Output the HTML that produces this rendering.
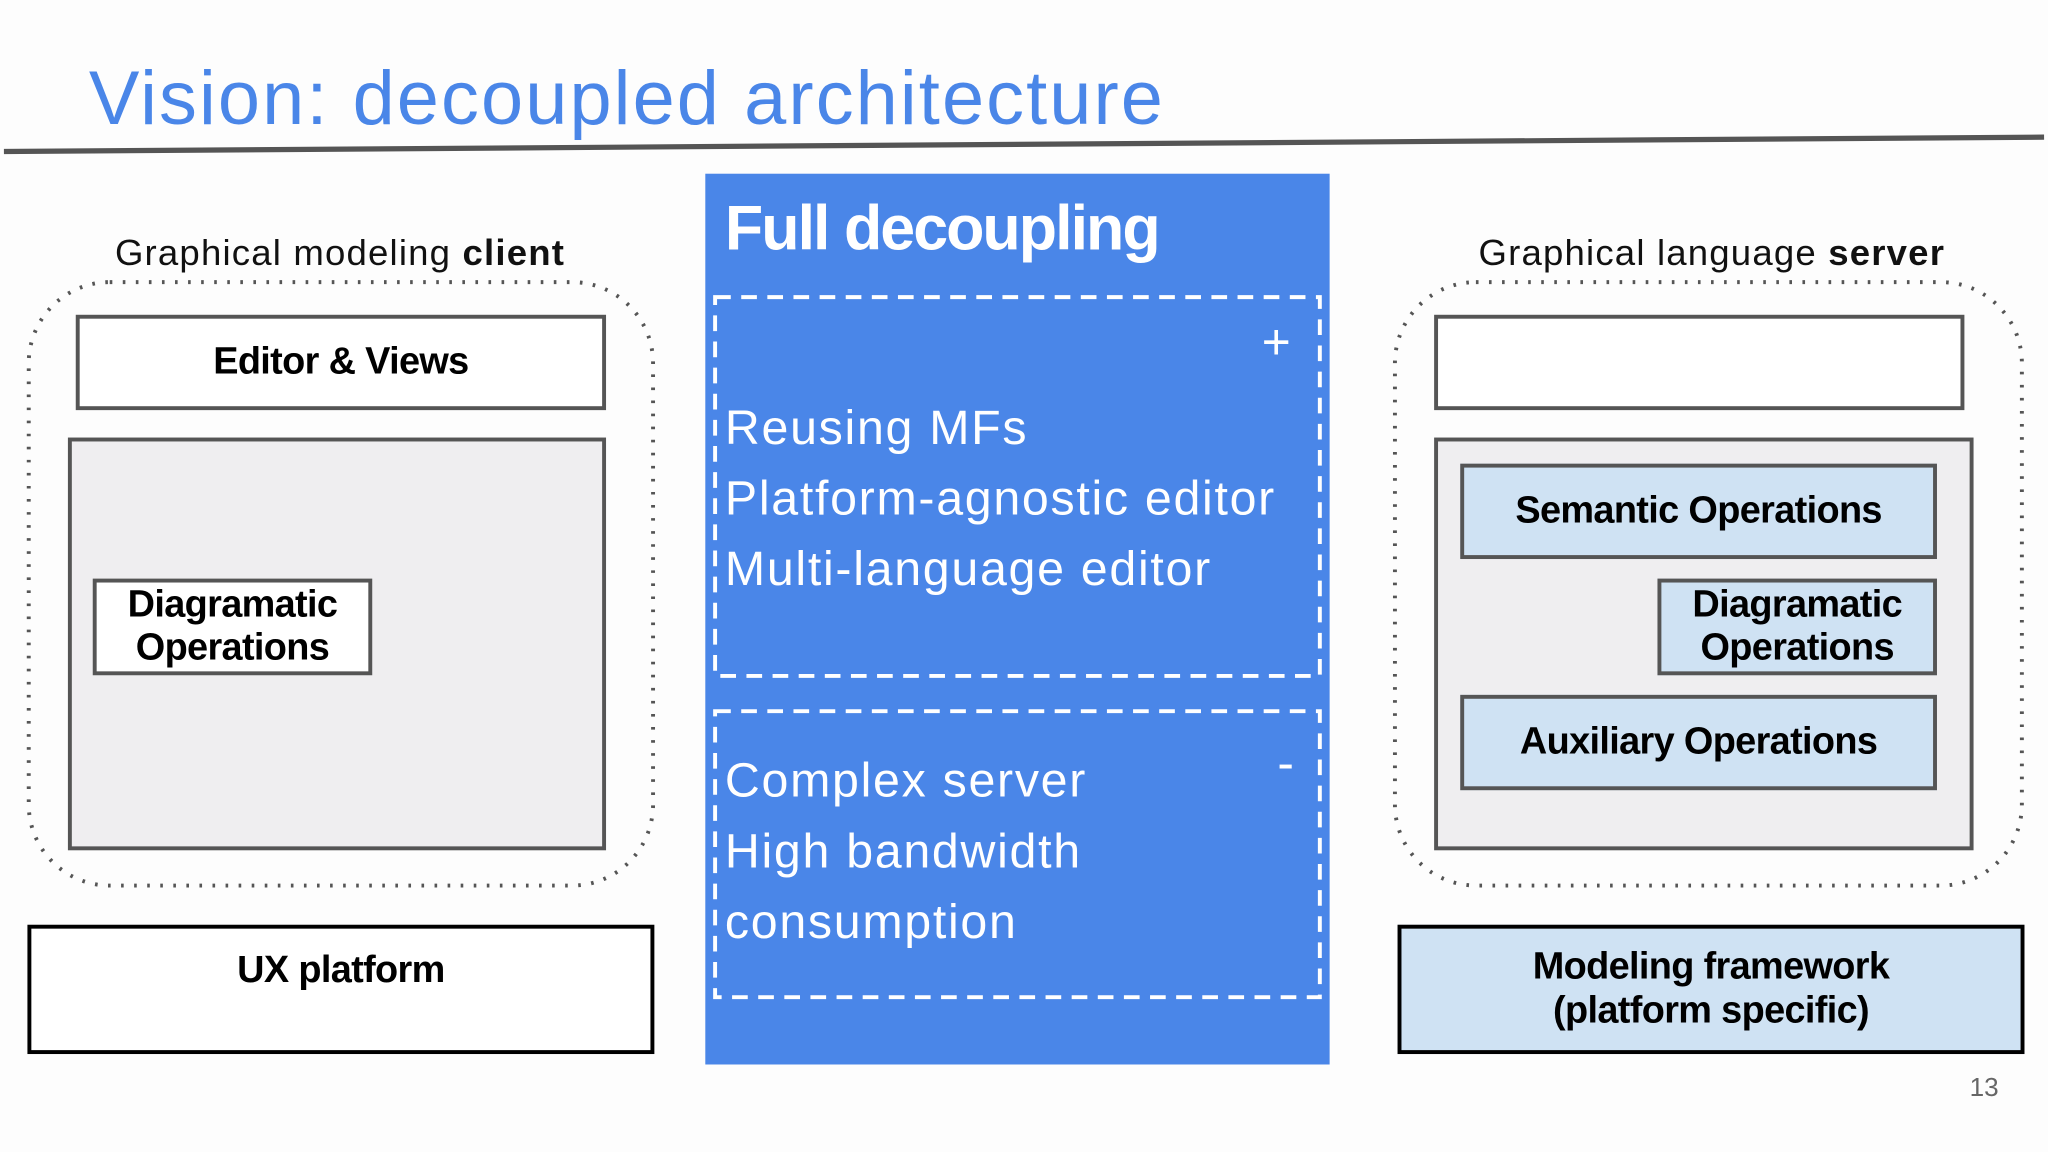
<!DOCTYPE html>
<html><head><meta charset="utf-8"><style>
html,body{margin:0;padding:0;background:#fdfdfd;}
#wrap{width:2048px;height:1152px;overflow:hidden;position:relative;background:#fdfdfd;}
#s{position:absolute;left:0;top:0;width:1568px;height:882px;transform:scale(1.30612);transform-origin:0 0;font-family:"Liberation Sans",sans-serif;}
.a{position:absolute;box-sizing:border-box;}
.box{border:3px solid #555;background:#fff;display:flex;align-items:center;justify-content:center;text-align:center;font-weight:bold;font-size:29px;color:#000;letter-spacing:-0.5px;line-height:1.15;}
.blue{background:#cfe2f3;}
.lbl{font-size:28px;color:#111;white-space:nowrap;letter-spacing:0.9px;}
.wt{color:#fff;font-size:37px;white-space:nowrap;letter-spacing:1.3px;}
</style></head><body><div id="wrap"><div id="s">
<div class="a" style="left:68px;top:42px;font-size:58px;color:#4a86e8;white-space:nowrap;letter-spacing:1.6px">Vision: decoupled architecture</div>
<svg class="a" style="left:0;top:0" width="1568" height="882">
<line x1="3" y1="116" x2="1565" y2="105" stroke="#555" stroke-width="4"/>
<rect x="22" y="216" width="478" height="462" rx="62" fill="none" stroke="#555" stroke-width="3" stroke-dasharray="2 8"/>
<rect x="1068" y="216" width="480" height="462" rx="62" fill="none" stroke="#555" stroke-width="3" stroke-dasharray="2 8"/>
</svg>
<div class="a lbl" style="left:88px;top:178px">Graphical modeling <b>client</b></div>
<div class="a lbl" style="left:1132px;top:178px">Graphical language <b>server</b></div>
<div class="a box" style="left:58px;top:241px;width:406px;height:73px">Editor &amp; Views</div>
<div class="a box" style="left:52px;top:335px;width:412px;height:316px;background:#efeef0"></div>
<div class="a box" style="left:71px;top:443px;width:214px;height:74px">Diagramatic<br>Operations</div>
<div class="a box" style="left:21px;top:708px;width:480px;height:99px;border-color:#000;align-items:flex-start;padding-top:16px">UX platform</div>

<div class="a" style="left:540px;top:133px;width:478px;height:682px;background:#4a86e8"></div>
<div class="a" style="left:555px;top:148px;font-size:48px;font-weight:bold;color:#fff;white-space:nowrap;letter-spacing:-1.5px">Full decoupling</div>
<svg class="a" style="left:0;top:0" width="1568" height="882">
<rect x="547.5" y="227.5" width="463" height="290" fill="none" stroke="#fff" stroke-width="3" stroke-dasharray="12 8"/>
<rect x="547.5" y="544.5" width="463" height="219" fill="none" stroke="#fff" stroke-width="3" stroke-dasharray="12 8"/>
</svg>
<div class="a wt" style="left:966px;top:242px;font-size:38px">+</div>
<div class="a wt" style="left:978px;top:564px;font-size:38px">-</div>
<div class="a wt" style="left:555px;top:307px">Reusing MFs</div>
<div class="a wt" style="left:555px;top:361px">Platform-agnostic editor</div>
<div class="a wt" style="left:555px;top:415px">Multi-language editor</div>
<div class="a wt" style="left:555px;top:577px">Complex server</div>
<div class="a wt" style="left:555px;top:631px">High bandwidth</div>
<div class="a wt" style="left:555px;top:685px">consumption</div>

<div class="a box" style="left:1098px;top:241px;width:406px;height:73px"></div>
<div class="a box" style="left:1098px;top:335px;width:413px;height:316px;background:#efeef0"></div>
<div class="a box blue" style="left:1118px;top:355px;width:365px;height:73px">Semantic Operations</div>
<div class="a box blue" style="left:1269px;top:443px;width:214px;height:74px">Diagramatic<br>Operations</div>
<div class="a box blue" style="left:1118px;top:532px;width:365px;height:73px">Auxiliary Operations</div>
<div class="a box blue" style="left:1070px;top:708px;width:480px;height:99px;border-color:#000">Modeling framework<br>(platform specific)</div>
<div class="a" style="left:1508px;top:822px;font-size:20px;color:#666">13</div>
</div></div></body></html>
